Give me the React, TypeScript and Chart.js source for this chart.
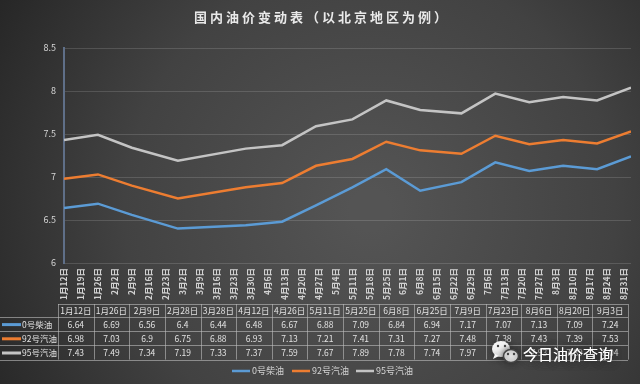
import React, { useEffect, useRef } from "react";
import { Chart, registerables } from "chart.js";

Chart.register(...registerables);

const TITLE = "国内油价变动表（以北京地区为例）";
const SERIES_NAMES = ["0号柴油", "92号汽油", "95号汽油"];
const SERIES_COLORS = ["#5b9bd5", "#ed7d31", "#c4c4c4"];
const DATES = [
  "1月12日", "1月26日", "2月9日", "2月28日", "3月28日", "4月12日", "4月26日", "5月11日",
  "5月25日", "6月8日", "6月25日", "7月9日", "7月23日", "8月6日", "8月20日", "9月3日",
];
const DIESEL_0 = [6.64, 6.69, 6.56, 6.4, 6.44, 6.48, 6.67, 6.88, 7.09, 6.84, 6.94, 7.17, 7.07, 7.13, 7.09, 7.24];
const GAS_92 = [6.98, 7.03, 6.9, 6.75, 6.88, 6.93, 7.13, 7.21, 7.41, 7.31, 7.27, 7.48, 7.38, 7.43, 7.39, 7.53];
const GAS_95 = [7.43, 7.49, 7.34, 7.19, 7.33, 7.37, 7.59, 7.67, 7.89, 7.78, 7.74, 7.97, 7.87, 7.93, 7.89, 8.04];
const AXIS_DATES = [
  "1月12日", "1月19日", "1月26日", "2月2日", "2月9日", "2月16日", "2月23日", "3月2日", "3月9日",
  "3月16日", "3月23日", "3月30日", "4月6日", "4月13日", "4月20日", "4月27日", "5月4日", "5月11日",
  "5月18日", "5月25日", "6月1日", "6月8日", "6月15日", "6月22日", "6月29日", "7月6日", "7月13日",
  "7月20日", "7月27日", "8月3日", "8月10日", "8月17日", "8月24日", "8月31日",
];
const AXIS_END = "9月3日";
const Y_MIN = 6;
const Y_MAX = 8.5;
const Y_STEP = 0.5;
const WATERMARK = "今日油价查询";

const CUM_DAYS = [0, 31, 59, 90, 120, 151, 181, 212, 243, 273, 304, 334];
function dayOfYear(s: string): number {
  const m = s.match(/(\d+)月(\d+)日/);
  if (!m) return 0;
  return CUM_DAYS[parseInt(m[1], 10) - 1] + parseInt(m[2], 10);
}
const START = dayOfYear(AXIS_DATES[0]);
const dayOffset = (s: string) => dayOfYear(s) - START;

const FONT = '"Noto Sans CJK SC", "Noto Sans", sans-serif';

const bgPlugin = {
  id: "bgPlugin",
  beforeDraw(chart: any) {
    const { ctx, width, height } = chart;
    ctx.save();
    const g = ctx.createRadialGradient(370, 210, 20, 370, 210, 430);
    g.addColorStop(0, "#545454");
    g.addColorStop(0.55, "#424242");
    g.addColorStop(1, "#262626");
    ctx.fillStyle = g;
    ctx.fillRect(0, 0, width, height);
    ctx.restore();
  },
};

const overlayPlugin = {
  id: "overlayPlugin",
  afterDraw(chart: any) {
    const { ctx, chartArea } = chart;
    ctx.save();
    // Title
    ctx.font = `bold 13px ${FONT}`;
    (ctx as any).letterSpacing = "3px";
    ctx.fillStyle = "#e9e9e9";
    ctx.textAlign = "center";
    ctx.textBaseline = "middle";
    ctx.fillText(TITLE, 322, 17);
    (ctx as any).letterSpacing = "0px";

    // Data table
    const left = 58;
    const right = chartArea.right - 3;
    const n = DATES.length;
    const colW = (right - left) / n;
    const top = 304;
    const hdrH = 13;
    const rowH = 14.2;
    const rows = [DIESEL_0, GAS_92, GAS_95];
    const bottom = top + hdrH + rowH * rows.length;
    ctx.strokeStyle = "rgba(190,190,190,0.6)";
    ctx.lineWidth = 1;
    ctx.beginPath();
    ctx.moveTo(left, top + 0.5);
    ctx.lineTo(right, top + 0.5);
    for (let r = 0; r <= rows.length; r++) {
      const y = Math.round(top + hdrH + rowH * r) + 0.5;
      ctx.moveTo(0, y);
      ctx.lineTo(right, y);
    }
    for (let c = 0; c <= n; c++) {
      const x = Math.round(left + colW * c) + 0.5;
      ctx.moveTo(x, top);
      ctx.lineTo(x, bottom);
    }
    ctx.stroke();

    ctx.fillStyle = "#e2e2e2";
    ctx.font = `8.5px ${FONT}`;
    ctx.textAlign = "center";
    ctx.textBaseline = "middle";
    DATES.forEach((d, i) => {
      ctx.fillText(d, left + colW * (i + 0.5), top + hdrH / 2 + 0.5);
    });
    rows.forEach((vals, r) => {
      const cy = top + hdrH + rowH * (r + 0.5) + 0.5;
      vals.forEach((v, i) => {
        ctx.fillText(String(v), left + colW * (i + 0.5), cy);
      });
      // row label with key
      ctx.strokeStyle = SERIES_COLORS[r];
      ctx.lineWidth = 3;
      ctx.beginPath();
      ctx.moveTo(2, cy);
      ctx.lineTo(21, cy);
      ctx.stroke();
      ctx.textAlign = "left";
      ctx.fillText(SERIES_NAMES[r], 22, cy);
      ctx.textAlign = "center";
    });

    // Legend
    const legendX = [232, 292, 356];
    const ly = 371;
    ctx.font = `9px ${FONT}`;
    ctx.textAlign = "left";
    SERIES_NAMES.forEach((name, i) => {
      ctx.strokeStyle = SERIES_COLORS[i];
      ctx.lineWidth = 2.5;
      ctx.beginPath();
      ctx.moveTo(legendX[i], ly);
      ctx.lineTo(legendX[i] + 18, ly);
      ctx.stroke();
      ctx.fillStyle = "#d4d4d4";
      ctx.fillText(name, legendX[i] + 20, ly);
    });

    // Watermark
    ctx.shadowColor = "rgba(40,40,40,0.9)";
    ctx.shadowBlur = 6;
    ctx.fillStyle = "rgba(255,255,255,0.95)";
    ctx.beginPath();
    ctx.ellipse(501, 349, 9, 8, 0, 0, Math.PI * 2);
    ctx.fill();
    ctx.beginPath();
    ctx.moveTo(495, 354);
    ctx.lineTo(493, 359);
    ctx.lineTo(499, 356);
    ctx.fill();
    ctx.strokeStyle = "#444";
    ctx.lineWidth = 1.5;
    ctx.beginPath();
    ctx.ellipse(511, 356, 7.5, 6.5, 0, 0, Math.PI * 2);
    ctx.fill();
    ctx.stroke();
    ctx.shadowBlur = 0;
    ctx.fillStyle = "#444";
    [[498, 346], [505, 346], [508, 354], [514, 354]].forEach(([x, y]) => {
      ctx.beginPath();
      ctx.arc(x, y, 1.2, 0, Math.PI * 2);
      ctx.fill();
    });
    ctx.shadowBlur = 8;
    ctx.fillStyle = "rgba(255,255,255,0.97)";
    ctx.font = `15px ${FONT}`;
    ctx.textAlign = "left";
    ctx.textBaseline = "middle";
    ctx.fillText(WATERMARK, 523, 354);
    ctx.fillText(WATERMARK, 523, 354);
    ctx.restore();
  },
};

export default function App() {
  const ref = useRef<HTMLCanvasElement | null>(null);
  useEffect(() => {
    if (!ref.current) return;
    const seriesData = [DIESEL_0, GAS_92, GAS_95];
    const chart = new Chart(ref.current, {
      type: "line",
      data: {
        datasets: SERIES_NAMES.map((name, i) => ({
          label: name,
          data: DATES.map((d, j) => ({ x: dayOffset(d), y: seriesData[i][j] })),
          borderColor: SERIES_COLORS[i],
          backgroundColor: SERIES_COLORS[i],
          borderWidth: 2.5,
          pointRadius: 0,
          tension: 0,
        })),
      },
      options: {
        animation: false,
        responsive: false,
        maintainAspectRatio: false,
        layout: { padding: { top: 48, left: 0, right: 9, bottom: 0 } },
        plugins: {
          legend: { display: false },
          title: { display: false },
          tooltip: { enabled: false },
        },
        scales: {
          x: {
            type: "linear",
            min: 0,
            max: dayOffset(AXIS_END),
            grid: { display: false, drawTicks: false },
            border: { display: false },
            afterBuildTicks: (scale: any) => {
              scale.ticks = AXIS_DATES.map((d) => ({ value: dayOffset(d) }));
            },
            afterFit: (scale: any) => {
              scale.height = 384 - 263;
            },
            ticks: {
              autoSkip: false,
              maxRotation: 90,
              minRotation: 90,
              padding: 5,
              color: "#d2d2d2",
              font: { family: FONT, size: 8.5, weight: "bold" },
              callback: (value: any) => {
                const idx = AXIS_DATES.findIndex((d) => dayOffset(d) === value);
                return idx >= 0 ? AXIS_DATES[idx] : "";
              },
            },
          },
          y: {
            min: Y_MIN,
            max: Y_MAX,
            grid: { color: "rgba(255,255,255,0.14)", drawTicks: false },
            border: { display: true, color: "#5f6f88", width: 2 },
            afterFit: (scale: any) => {
              scale.width = 64;
            },
            ticks: {
              stepSize: Y_STEP,
              padding: 8,
              color: "#d6d6d6",
              font: { family: FONT, size: 9 },
              callback: (value: any) => String(Number(value)),
            },
          },
        },
      },
      plugins: [bgPlugin, overlayPlugin],
    } as any);
    return () => chart.destroy();
  }, []);
  return (
    <div style={{ position: "fixed", left: 0, top: 0, width: 640, height: 384 }}>
      <canvas ref={ref} width={640} height={384} style={{ display: "block", width: 640, height: 384 }} />
    </div>
  );
}
